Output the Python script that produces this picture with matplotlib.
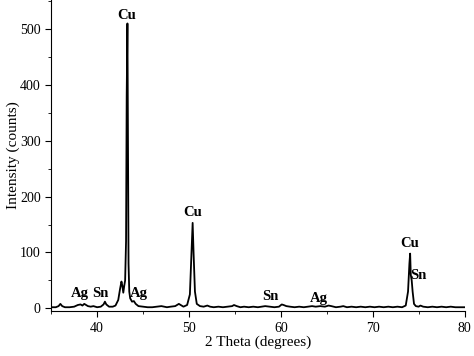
import numpy as np
import matplotlib.pyplot as plt
from matplotlib.ticker import MultipleLocator

plt.rcParams['font.family'] = ['Liberation Serif', 'DejaVu Serif']

# XRD pattern (2 theta in degrees, intensity in counts)
two_theta = [35.0, 35.5, 35.8, 36.0, 36.2, 36.5, 37.0, 37.5, 37.9, 38.2, 38.4,
             38.6, 38.8, 39.0, 39.3, 39.6, 40.0, 40.4, 40.7, 40.85, 41.0, 41.3,
             41.7, 42.0, 42.3, 42.5, 42.65, 42.75, 42.85, 42.95, 43.05, 43.15,
             43.22, 43.3, 43.36, 43.42, 43.5, 43.6, 43.8, 44.0, 44.2, 44.5,
             45.0, 45.5, 46.0, 46.5, 47.0, 47.3, 47.6, 48.0, 48.5, 48.9, 49.1,
             49.4, 49.8, 50.1, 50.3, 50.4, 50.5, 50.65, 50.85, 51.2, 51.6,
             52.0, 52.3, 52.7, 53.2, 53.7, 54.2, 54.7, 54.9, 55.2, 55.6, 56.0,
             56.5, 57.0, 57.5, 57.9, 58.3, 58.8, 59.3, 59.8, 60.1, 60.3, 60.6,
             61.0, 61.5, 62.0, 62.5, 63.0, 63.4, 63.8, 64.3, 64.8, 65.2, 65.5,
             66.0, 66.5, 66.8, 67.2, 67.7, 68.2, 68.7, 69.2, 69.7, 70.2, 70.7,
             71.2, 71.7, 72.2, 72.7, 73.2, 73.6, 73.85, 74.0, 74.08, 74.15,
             74.25, 74.35, 74.5, 74.7, 75.0, 75.2, 75.5, 76.0, 76.5, 77.0,
             77.5, 78.0, 78.5, 79.0, 79.5, 80.0]
intensity = [2, 2, 4, 8, 4, 2, 2, 3, 6, 7, 5,
             8, 6, 4, 3, 4, 2, 3, 7, 12, 7, 3,
             3, 5, 15, 35, 48, 40, 28, 40, 50, 120,
             380, 510, 300, 80, 30, 18, 12, 13, 8, 4,
             3, 2, 2, 3, 4, 3, 2, 3, 4, 8, 6,
             3, 6, 25, 110, 153, 100, 30, 8, 4, 3,
             5, 3, 2, 3, 2, 3, 4, 6, 4, 2, 3,
             2, 3, 2, 3, 4, 3, 2, 3, 7, 6, 4,
             3, 2, 3, 2, 3, 4, 3, 4, 3, 5, 4,
             2, 3, 4, 2, 3, 2, 3, 2, 3, 2, 3,
             2, 3, 2, 3, 2, 5, 30, 80, 98, 60,
             50, 30, 8, 4, 3, 5, 3, 2, 3, 2,
             3, 2, 3, 2, 2, 2]

labels = ['Cu', 'Cu', 'Cu', 'Sn', 'Ag', 'Sn', 'Ag', 'Sn', 'Ag']
label_x = [43.25, 50.35, 74.0, 75.0, 38.1, 40.4, 44.5, 58.9, 64.1]
label_y = [512, 160, 104, 48, 15, 15, 15, 10, 6]

fig = plt.figure(figsize=(4.74, 3.56), dpi=100)
ax = fig.add_axes([0.108, 0.126, 0.872, 0.874])

ax.plot(two_theta, intensity, color='black', linewidth=1.3)

for lab, lx, ly in zip(labels, label_x, label_y):
    ax.text(lx, ly, lab, ha='center', va='bottom', fontsize=10.5,
            fontweight='bold')

ax.set_xlim(35, 80)
ax.set_ylim(-5, 552)
ax.xaxis.set_major_locator(MultipleLocator(10))
ax.xaxis.set_minor_locator(MultipleLocator(5))
ax.yaxis.set_major_locator(MultipleLocator(100))
ax.yaxis.set_minor_locator(MultipleLocator(50))
ax.tick_params(which='both', direction='out', labelsize=10)
ax.tick_params(which='major', length=4)
ax.tick_params(which='minor', length=2.5)

for side in ['top', 'right']:
    ax.spines[side].set_visible(False)

ax.set_xlabel('2 Theta (degrees)', fontsize=11, labelpad=1)
ax.set_ylabel('Intensity (counts)', fontsize=11, labelpad=0)

plt.savefig('out.png', dpi=100)
